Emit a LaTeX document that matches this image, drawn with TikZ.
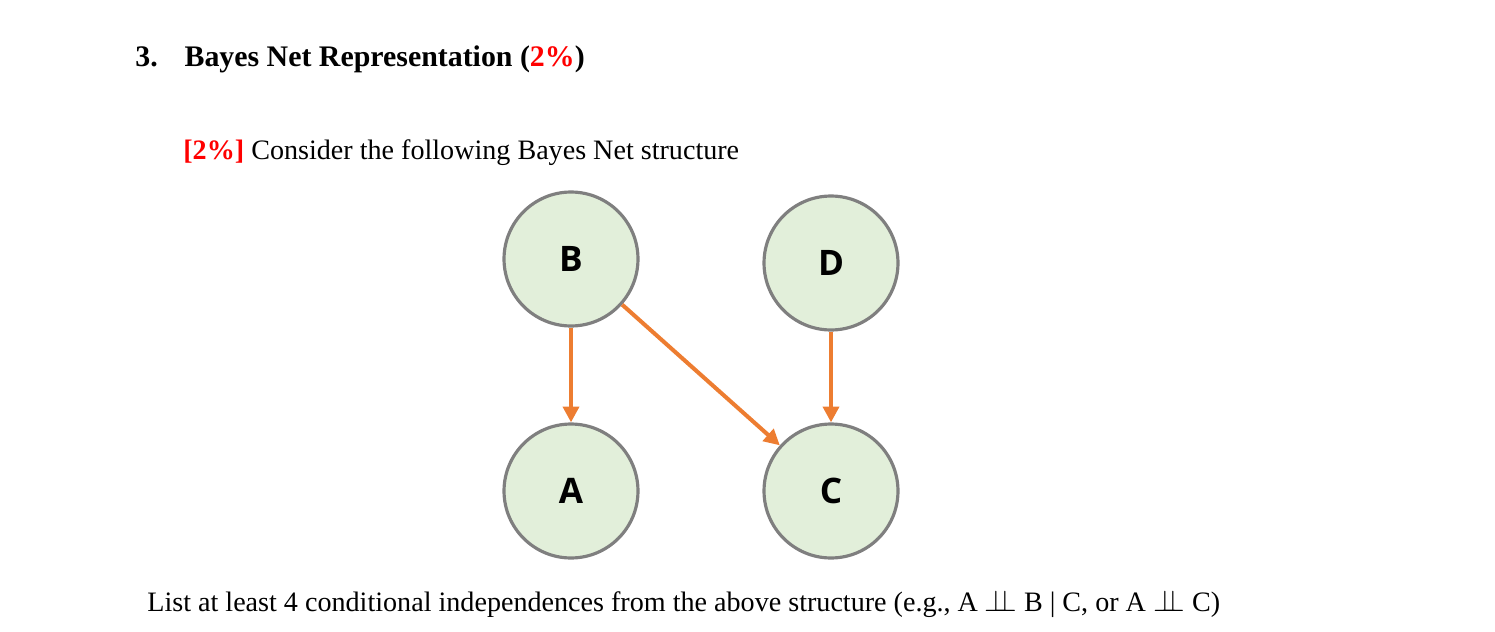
\documentclass[tikz,border=0pt]{standalone}
\usepackage{fontspec}
\setmainfont{Liberation Serif}
\newfontfamily\nodefont{Open Sans}
\usetikzlibrary{arrows.meta}
\definecolor{nfill}{HTML}{E2EFDA}
\definecolor{nedge}{HTML}{7F7F7F}
\definecolor{arr}{HTML}{ED7D31}
\tikzset{
  bn/.style={circle,draw=nedge,line width=1.8pt,fill=nfill,minimum size=2.68cm,inner sep=0pt,font=\nodefont\bfseries\fontsize{20}{24}\selectfont},
  edge/.style={draw=arr,line width=2.3pt,-{Triangle[length=9pt,width=9pt]}},
  txt/.style={anchor=base west,inner sep=0pt}
}
\begin{document}
\begin{tikzpicture}[x=0.02cm,y=-0.02cm]
\useasboundingbox (0,0) rectangle (1495,632);
\node[txt,font=\bfseries\fontsize{17}{20}\selectfont] (title) at (135,66) {3.\hspace{0.9em}Bayes Net Representation (\textcolor{red}{2\%})};
\node[txt,font=\fontsize{16}{19}\selectfont] (q) at (183,159) {\textcolor{red}{\textbf{[2\%]}} Consider the following Bayes Net structure};
\node[bn] (B) at (571,259) {B};
\node[bn] (D) at (831,263) {D};
\node[bn] (A) at (571,491) {A};
\node[bn] (C) at (831,491) {C};
\draw[edge] (B) -- (A);
\draw[edge] (B) -- (C);
\draw[edge] (D) -- (C);
\node[txt,font=\fontsize{16}{19}\selectfont] (list) at (147,611) {List at least 4 conditional independences from the above structure (e.g., A $\perp\!\!\!\perp$ B | C, or A $\perp\!\!\!\perp$ C)};
\end{tikzpicture}
\end{document}
